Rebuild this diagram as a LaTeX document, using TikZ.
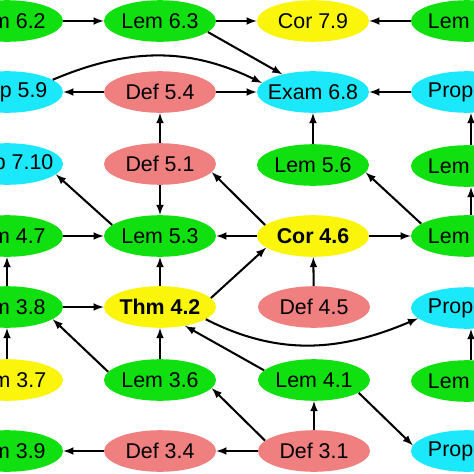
\documentclass[tikz,border=0pt]{standalone}
\usepackage{fontspec}
\setsansfont{Liberation Sans}
\usepackage{tikz}
\usetikzlibrary{shapes,arrows,calc}

\definecolor{lemgreen}{RGB}{16,224,16}
\definecolor{propcyan}{RGB}{28,232,252}
\definecolor{defpink}{RGB}{240,128,128}
\definecolor{thmyellow}{RGB}{250,245,10}

\begin{document}
\begin{tikzpicture}[>=latex,font=\sffamily\fontsize{15.2}{18}\selectfont,x=0.025cm,y=-0.025cm,
		stmt/.style={ellipse, minimum width=2.8cm, minimum height=1.04cm, inner xsep=-0.3cm, inner ysep=0pt},
		lem/.style={stmt, fill=lemgreen},
		prop/.style={stmt, fill=propcyan},
		defn/.style={stmt, fill=defpink},
		thm/.style={stmt, fill=thmyellow},
		main/.style={thm, font=\sffamily\bfseries\fontsize{15.2}{18}\selectfont},
		cut/.style={text width=1.95cm, align=left},
		dep/.style={->, line width=1.45pt}]

			\useasboundingbox (0,0) rectangle (474,474);

			\node [lem] (l62) at (7,21) {Lem 6.2};
			\node [lem] (l63) at (160,21) {Lem 6.3};
			\node [thm] (c79) at (313,21) {Cor 7.9};
			\node [lem, cut] (r1) at (467,21) {Lem};

			\node [prop] (p59) at (7,92) {Prop 5.9};
			\node [defn] (d54) at (160,92) {Def 5.4};
			\node [prop] (e68) at (313,92) {Exam 6.8};
			\node [prop, cut] (r2) at (467,92) {Prop};

			\node [prop] (p710) at (7,164) {Prop 7.10};
			\node [defn] (d51) at (160,164) {Def 5.1};
			\node [lem] (l56) at (313,165) {Lem 5.6};
			\node [lem, cut] (r3) at (467,166) {Lem};

			\node [lem] (l47) at (7,236) {Lem 4.7};
			\node [lem] (l53) at (160,236) {Lem 5.3};
			\node [main] (c46) at (313,236) {Cor 4.6};
			\node [lem, cut] (r4) at (467,236) {Lem};

			\node [lem] (l38) at (7,307) {Lem 3.8};
			\node [main] (t42) at (160,307) {Thm 4.2};
			\node [defn] (d45) at (314,307) {Def 4.5};
			\node [prop, cut] (r5) at (467,308) {Prop};

			\node [thm] (t37) at (7,380) {Thm 3.7};
			\node [lem] (l36) at (160,380) {Lem 3.6};
			\node [lem] (l41) at (314,380) {Lem 4.1};
			\node [lem, cut] (r6) at (467,381) {Lem};

			\node [lem] (l39) at (7,451) {Lem 3.9};
			\node [defn] (d34) at (160,451) {Def 3.4};
			\node [defn] (d31) at (314,451) {Def 3.1};
			\node [prop, cut] (r7) at (467,451) {Prop};

			\draw [dep] (l62) -- (l63);
			\draw [dep] (l63) -- (c79);
			\draw [dep] (r1) -- (c79);
			\draw [dep] (l63.-13) -- (e68.150);
			\draw [dep] (p59.15) to[out=23, in=154] (e68.170);
			\draw [dep] (d54) -- (p59);
			\draw [dep] (d54) -- (e68);
			\draw [dep] (r2) -- (e68);
			\draw [dep] (l56) -- (e68);

			\draw [dep] (d51) -- (d54);
			\draw [dep] (d51) -- (l53);
			\draw [dep] (l53.167) -- (p710.-12);
			\draw [dep] (l47) -- (l53);
			\draw [dep] (c46) -- (l53);
			\draw [dep] (c46.167) -- (d51.-9);
			\draw [dep] (c46) -- (r4);
			\draw [dep] (r4.165) -- (l56.-8);
			\draw [dep] ([xshift=0.1cm]r4.north) -- ([xshift=0.1cm]r3.south);
			\draw [dep] ([xshift=0.1cm]r3.north) -- ([xshift=0.1cm]r2.south);

			\draw [dep] (t42) -- (l53);
			\draw [dep] (t42.10) -- (c46.194);
			\draw [dep] (d45) -- (c46);
			\draw [dep] (t42.-15) to[out=-27, in=-157] (r5.192);
			\draw [dep] ([xshift=0.1cm]r6.north) -- ([xshift=0.1cm]r5.south);
			\draw [dep] (l38) -- (t42);
			\draw [dep] (l38) -- (l47);
			\draw [dep] (t37) -- (l38);

			\draw [dep] (l36) -- (t42);
			\draw [dep] (l36.171) -- (l38.-15);
			\draw [dep] (l41.169) -- (t42.-37);
			\draw [dep] (l41.-16) -- (r7.174);
			\draw [dep] (d31) -- (l41);
			\draw [dep] (d31.168) -- (l36.-9);
			\draw [dep] (d31) -- (d34);
			\draw [dep] (d34) -- (l39);
		\end{tikzpicture}
\end{document}
